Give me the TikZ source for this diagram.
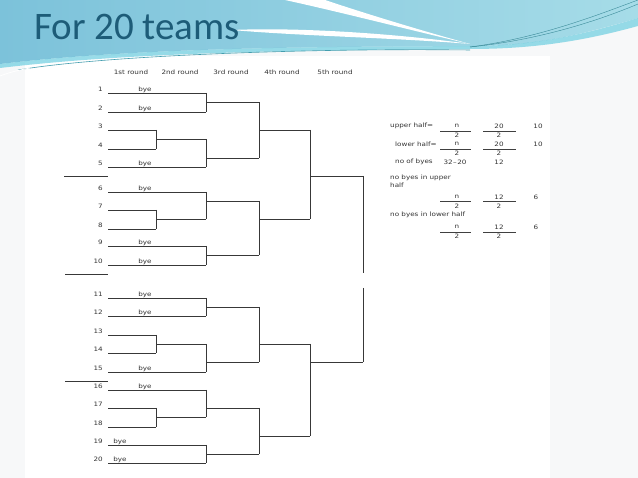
\documentclass[tikz,border=0pt]{standalone}
\usepackage{fontspec}
\setmainfont{DejaVu Sans}
\newfontfamily\titlefont{Carlito}
\newfontfamily\smallfont[FakeStretch=1.2]{DejaVu Sans}
\definecolor{titleblue}{HTML}{1D5C78}
\definecolor{bandleft}{HTML}{7CC2DA}
\definecolor{bandright}{HTML}{A6DCE8}
\definecolor{bandcyan}{HTML}{55C6DB}
\definecolor{txtgray}{HTML}{333333}
\definecolor{slidebg}{HTML}{F7F8F9}
\tikzset{
  br/.style={draw=black!78, line width=0.85pt},
  lbl/.style={font=\smallfont\fontsize{6}{7}\selectfont, text=txtgray, inner sep=0pt},
  num/.style={lbl, anchor=east},
  frac/.style={draw=black!75, line width=0.6pt}
}
\begin{document}
\begin{tikzpicture}[x=1pt,y=-1pt]
\useasboundingbox (0,0) rectangle (638,478);
% slide background
\fill[slidebg] (0,0) rectangle (638,478);
\fill[white] (25,56) rectangle (550,478);
% top band
\shade[left color=bandleft, right color=bandright]
  (0,0) -- (638,0) -- (638,18) .. controls (570,38) and (530,46) .. (470,46)
  .. controls (350,47) and (150,46) .. (0,64) -- cycle;
\fill[bandcyan, opacity=0.6]
  (0,64) .. controls (150,46) and (350,47) .. (470,46)
  .. controls (530,46) and (580,36) .. (638,18) -- (638,26)
  .. controls (580,42) and (530,49) .. (470,49)
  .. controls (350,50) and (150,50) .. (0,68) -- cycle;
\fill[white] (285,0) .. controls (340,12) and (410,30) .. (470,44)
  .. controls (405,26) and (355,10) .. (325,0) -- cycle;
\fill[white] (232,30) .. controls (300,27) and (400,34) .. (470,44)
  .. controls (400,38) and (300,36) .. (232,30) -- cycle;
\draw[bandcyan!80!black, line width=0.6pt] (18,70) .. controls (100,56) and (300,48) .. (470,50);
\draw[white, line width=0.8pt] (0,76) .. controls (10,72) and (20,70) .. (30,68);
\draw[bandcyan!70!black, line width=0.4pt] (470,47) .. controls (540,40) and (600,20) .. (638,4);
\draw[bandcyan!70!black, line width=0.4pt] (470,47) .. controls (540,38) and (600,14) .. (638,0);
% title
\node[font=\titlefont\fontsize{39}{44}\selectfont, text=titleblue, anchor=base west, inner sep=0pt] (title) at (34,40) {For 20 teams};
% round headers
\node[lbl] (h1) at (131,72) {1st round};
\node[lbl] (h2) at (180,72) {2nd round};
\node[lbl] (h3) at (231,72) {3rd round};
\node[lbl] (h4) at (282,72) {4th round};
\node[lbl] (h5) at (335,72) {5th round};
% column coordinates
\coordinate (x1) at (156,0);
\coordinate (x2) at (206,0);
\coordinate (x3) at (259,0);
\coordinate (x4) at (310,0);
\coordinate (x5) at (363,0);
% team lines and labels
\foreach \n/\y in {1/93,2/112,3/130,4/149,5/167,6/192,7/210,8/229,9/246,10/265,
                   11/298,12/316,13/335,14/353,15/372,16/390,17/408,18/427,19/445,20/463}{
  \coordinate (t\n) at (108,\y);
  \node[num] (n\n) at (103,\y-3.5) {\n};
}
\foreach \n in {1,2,5,6,9,10,11,12,15,16}{
  \node[lbl] (bye\n) at (145,0 |- t\n) [yshift=3.5pt] {bye};
}
\node[lbl] (bye19) at (120,445-3.5) {bye};
\node[lbl] (bye20) at (120,463-3.5) {bye};
\foreach \n in {1,2,5,6,9,10,11,12,15,16,19,20} \draw[br] (t\n) -- (t\n -| x2);
\foreach \n in {3,4,7,8,13,14,17,18} \draw[br] (t\n) -- (t\n -| x1);
% separators
\coordinate (s1a) at (64,176); \coordinate (s1b) at (108,176);
\coordinate (s2a) at (65,274); \coordinate (s2b) at (108,274);
\coordinate (s3a) at (65,381); \coordinate (s3b) at (108,381);
\draw[br] (s1a) -- (s1b) (s2a) -- (s2b) (s3a) -- (s3b);
% round 1 junctions
\coordinate (a1) at (156,139.5);
\coordinate (a2) at (156,219.5);
\coordinate (a3) at (156,344);
\coordinate (a4) at (156,417.5);
\draw[br] (t3-|x1) -- (t4-|x1) (a1) -- (a1-|x2);
\draw[br] (t7-|x1) -- (t8-|x1) (a2) -- (a2-|x2);
\draw[br] (t13-|x1) -- (t14-|x1) (a3) -- (a3-|x2);
\draw[br] (t17-|x1) -- (t18-|x1) (a4) -- (a4-|x2);
% round 2 junctions
\coordinate (b1) at (206,102.5);
\coordinate (b2) at (206,158);
\coordinate (b3) at (206,201);
\coordinate (b4) at (206,255);
\coordinate (b5) at (206,307);
\coordinate (b6) at (206,362.5);
\coordinate (b7) at (206,408);
\coordinate (b8) at (206,454);
\draw[br] (t1-|x2) -- (t2-|x2) (b1) -- (b1-|x3);
\draw[br] (a1-|x2) -- (t5-|x2) (b2) -- (b2-|x3);
\draw[br] (t6-|x2) -- (a2-|x2) (b3) -- (b3-|x3);
\draw[br] (t9-|x2) -- (t10-|x2) (b4) -- (b4-|x3);
\draw[br] (t11-|x2) -- (t12-|x2) (b5) -- (b5-|x3);
\draw[br] (a3-|x2) -- (t15-|x2) (b6) -- (b6-|x3);
\draw[br] (t16-|x2) -- (a4-|x2) (b7) -- (b7-|x3);
\draw[br] (t19-|x2) -- (t20-|x2) (b8) -- (b8-|x3);
% round 3 junctions
\coordinate (c1) at (259,130);
\coordinate (c2) at (259,219);
\coordinate (c3) at (259,344);
\coordinate (c4) at (259,436);
\draw[br] (b1-|x3) -- (b2-|x3) (c1) -- (c1-|x4);
\draw[br] (b3-|x3) -- (b4-|x3) (c2) -- (c2-|x4);
\draw[br] (b5-|x3) -- (b6-|x3) (c3) -- (c3-|x4);
\draw[br] (b7-|x3) -- (b8-|x3) (c4) -- (c4-|x4);
% round 4 junctions
\coordinate (d1) at (310,176);
\coordinate (d2) at (310,362);
\draw[br] (c1-|x4) -- (c2-|x4) (d1) -- (d1-|x5);
\draw[br] (c3-|x4) -- (c4-|x4) (d2) -- (d2-|x5);
% round 5
\coordinate (e1) at (363,273);
\coordinate (e2) at (363,288);
\draw[br] (d1-|x5) -- (e1) (e2) -- (d2-|x5);
% right-hand calculation
\node[lbl, anchor=west] (uh) at (390,126) {upper half=};
\node[lbl] (uhn) at (457,126) {n};
\node[lbl] (uhv) at (499,126) {20};
\node[lbl] (uhr) at (538,126) {10};
\node[lbl] (uhd1) at (457,135.5) {2};
\node[lbl] (uhd2) at (499,135.5) {2};
\coordinate (f1a) at (440,131); \coordinate (f1b) at (471,131);
\coordinate (f2a) at (483,131); \coordinate (f2b) at (516,131);
\draw[frac] (f1a) -- (f1b) (f2a) -- (f2b);
\node[lbl, anchor=west] (lh) at (395,144) {lower half=};
\node[lbl] (lhn) at (457,144) {n};
\node[lbl] (lhv) at (499,144) {20};
\node[lbl] (lhr) at (538,144) {10};
\node[lbl] (lhd1) at (457,153.5) {2};
\node[lbl] (lhd2) at (499,153.5) {2};
\coordinate (f3a) at (440,149); \coordinate (f3b) at (471,149);
\coordinate (f4a) at (483,149); \coordinate (f4b) at (516,149);
\draw[frac] (f3a) -- (f3b) (f4a) -- (f4b);
\node[lbl, anchor=west] (nb) at (395,162) {no of byes};
\node[lbl] (nbv) at (455,162) {32{\kern0.5pt}–{\kern0.5pt}20};
\node[lbl] (nbr) at (499,162) {12};
\node[lbl, anchor=west] (ub1) at (390,178) {no byes in upper};
\node[lbl, anchor=west] (ub2) at (390,185.5) {half};
\node[lbl] (ubn) at (457,197) {n};
\node[lbl] (ubv) at (499,197) {12};
\node[lbl] (ubr) at (536,197) {6};
\node[lbl] (ubd1) at (457,206) {2};
\node[lbl] (ubd2) at (499,206) {2};
\coordinate (f5a) at (440,201.5); \coordinate (f5b) at (471,201.5);
\coordinate (f6a) at (483,201.5); \coordinate (f6b) at (516,201.5);
\draw[frac] (f5a) -- (f5b) (f6a) -- (f6b);
\node[lbl, anchor=west] (lb) at (390,215) {no byes in lower half};
\node[lbl] (lbn) at (457,227) {n};
\node[lbl] (lbv) at (499,227) {12};
\node[lbl] (lbr) at (536,227) {6};
\node[lbl] (lbd1) at (457,236.5) {2};
\node[lbl] (lbd2) at (499,236.5) {2};
\coordinate (f7a) at (440,232); \coordinate (f7b) at (471,232);
\coordinate (f8a) at (483,232); \coordinate (f8b) at (516,232);
\draw[frac] (f7a) -- (f7b) (f8a) -- (f8b);
\end{tikzpicture}
\end{document}
